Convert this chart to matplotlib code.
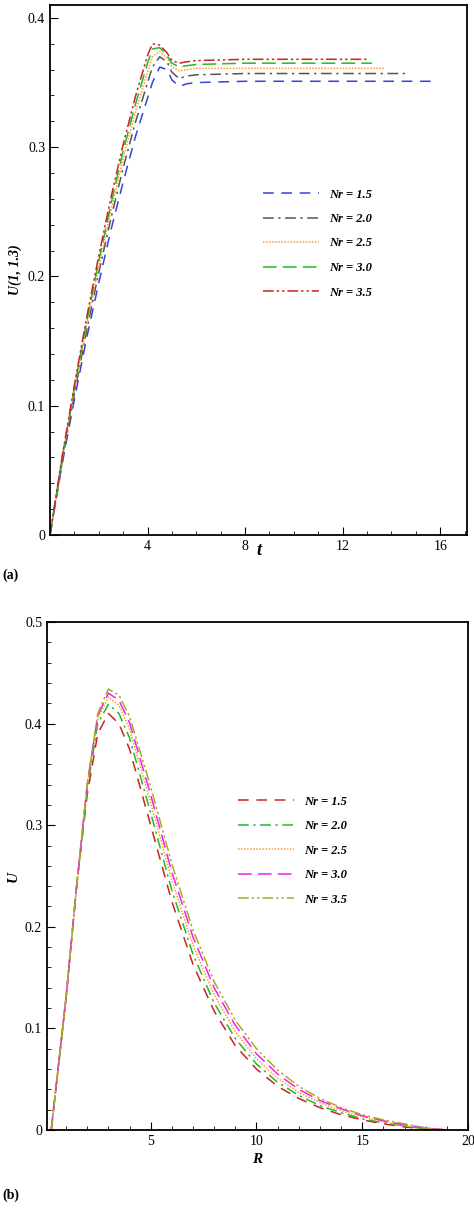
import matplotlib.pyplot as plt

# ---- panel (a): U(1, 1.3) vs t
t_a = [0, 0.5, 1, 1.5, 2, 2.5, 3, 3.5, 4, 4.2, 4.5, 4.8, 5.0, 5.3, 5.6, 6, 8, 10, 12, 13, 14, 15, 16]
u_a = {
    "1.5": [0, 0.055, 0.105, 0.152, 0.195, 0.236, 0.273, 0.308, 0.338, 0.350, 0.362, 0.360, 0.352, 0.347, 0.349, 0.350, 0.351, 0.351, 0.351, 0.351, 0.351, 0.351, 0.351],
    "2.0": [0, 0.057, 0.109, 0.158, 0.203, 0.245, 0.284, 0.319, 0.350, 0.362, 0.370, 0.366, 0.358, 0.353, 0.355, 0.356, 0.357, 0.357, 0.357, 0.357, 0.357, 0.357],
    "2.5": [0, 0.059, 0.112, 0.162, 0.208, 0.251, 0.291, 0.327, 0.358, 0.370, 0.374, 0.369, 0.362, 0.359, 0.360, 0.361, 0.361, 0.361, 0.361, 0.361, 0.361],
    "3.0": [0, 0.060, 0.114, 0.165, 0.212, 0.256, 0.297, 0.333, 0.365, 0.376, 0.377, 0.371, 0.365, 0.362, 0.363, 0.364, 0.365, 0.365, 0.365, 0.365],
    "3.5": [0, 0.061, 0.116, 0.168, 0.216, 0.261, 0.302, 0.339, 0.371, 0.380, 0.379, 0.373, 0.367, 0.365, 0.366, 0.367, 0.368, 0.368, 0.368, 0.368],
}
ends_a = {"1.5": 15.7, "2.0": 14.6, "2.5": 13.7, "3.0": 13.2, "3.5": 13.0}

# ---- panel (b): U vs R
r_b = [0.3, 1, 1.5, 2, 2.5, 3, 3.5, 4, 5, 6, 7, 8, 9, 10, 11, 12, 13, 14, 15, 16, 17, 18, 19]
u_b = {
    "1.5": [0, 0.13, 0.24, 0.33, 0.39, 0.41, 0.40, 0.375, 0.30, 0.225, 0.163, 0.117, 0.083, 0.06, 0.043, 0.031, 0.022, 0.015, 0.010, 0.006, 0.003, 0.001, 0],
    "2.0": [0, 0.13, 0.24, 0.335, 0.40, 0.419, 0.41, 0.386, 0.312, 0.236, 0.173, 0.125, 0.090, 0.065, 0.047, 0.034, 0.024, 0.017, 0.011, 0.007, 0.004, 0.001, 0],
    "2.5": [0, 0.13, 0.24, 0.34, 0.405, 0.426, 0.418, 0.395, 0.322, 0.246, 0.182, 0.133, 0.097, 0.070, 0.051, 0.037, 0.027, 0.019, 0.013, 0.008, 0.004, 0.002, 0],
    "3.0": [0, 0.13, 0.24, 0.34, 0.408, 0.43, 0.423, 0.401, 0.33, 0.254, 0.190, 0.140, 0.103, 0.075, 0.055, 0.040, 0.029, 0.021, 0.014, 0.009, 0.005, 0.002, 0],
    "3.5": [0, 0.13, 0.24, 0.34, 0.41, 0.434, 0.428, 0.407, 0.338, 0.262, 0.197, 0.146, 0.108, 0.080, 0.059, 0.043, 0.031, 0.022, 0.015, 0.010, 0.006, 0.002, 0],
}

styles_a = [("#3344dd", (0, (7, 5))), ("#555555", (0, (7, 3, 1.5, 3))), ("#ff9933", (0, (1, 1))),
            ("#22bb22", (0, (9, 4))), ("#cc2222", (0, (7, 2, 1.5, 2, 1.5, 2)))]
styles_b = [("#cc2222", (0, (7, 5))), ("#22bb22", (0, (7, 3, 1.5, 3))), ("#ff9933", (0, (1, 1))),
            ("#ee22ee", (0, (9, 4))), ("#aaaa22", (0, (7, 2, 1.5, 2, 1.5, 2)))]

plt.rcParams["font.family"] = "Liberation Serif"
fig = plt.figure(figsize=(4.74, 12.1), dpi=100)
W, H = 474, 1210
ax1 = fig.add_axes([50 / W, 1 - 535 / H, 417 / W, 530 / H])
ax2 = fig.add_axes([47 / W, 1 - 1130 / H, 421 / W, 508 / H])

for (nr, ys), (c, ls) in zip(u_a.items(), styles_a):
    xs = [x for x in t_a if x <= ends_a[nr]][:len(ys)]
    xs = xs + [ends_a[nr]]
    ys = ys[:len(xs) - 1] + [ys[len(xs) - 2]]
    ax1.plot(xs, ys, color=c, ls=ls, lw=1.1, label=f"Nr = {nr}")
ax1.set_xlim(0, 17.1)
ax1.set_ylim(0, 0.41)
ax1.set_xticks([4, 8, 12, 16])
ax1.set_yticks([0, 0.1, 0.2, 0.3, 0.4])
ax1.set_yticklabels(["0", "0.1", "0.2", "0.3", "0.4"])
ax1.set_xlabel("t", style="italic", fontweight="bold", fontsize=13, labelpad=-8)
ax1.set_ylabel("U(1, 1.3)", style="italic", fontweight="bold", fontsize=10)
ax1.legend(loc="center right", bbox_to_anchor=(0.8, 0.55), frameon=False, handlelength=4.5,
           prop={"style": "italic", "weight": "bold", "size": 9}, labelspacing=1.0)

for (nr, ys), (c, ls) in zip(u_b.items(), styles_b):
    ax2.plot(r_b, ys, color=c, ls=ls, lw=1.1, label=f"Nr = {nr}")
ax2.set_xlim(0.1, 20)
ax2.set_ylim(0, 0.5)
ax2.set_xticks([5, 10, 15, 20])
ax2.set_yticks([0, 0.1, 0.2, 0.3, 0.4, 0.5])
ax2.set_yticklabels(["0", "0.1", "0.2", "0.3", "0.4", "0.5"])
ax2.set_xlabel("R", style="italic", fontweight="bold", fontsize=11)
ax2.set_ylabel("U", style="italic", fontweight="bold", fontsize=11)
ax2.legend(loc="center right", bbox_to_anchor=(0.74, 0.55), frameon=False, handlelength=4.5,
           prop={"style": "italic", "weight": "bold", "size": 9}, labelspacing=1.0)

for ax in (ax1, ax2):
    ax.minorticks_on()
    ax.tick_params(which="both", direction="in", top=False, right=False, labelsize=10)
    ax.tick_params(which="major", length=6)
    ax.tick_params(which="minor", length=3)
    for s in ax.spines.values():
        s.set_linewidth(1.3)

fig.text(2 / W, 1 - 575 / H, "(a)", fontweight="bold", fontsize=10, va="center")
fig.text(2 / W, 1 - 1195 / H, "(b)", fontweight="bold", fontsize=10, va="center")
fig.savefig("out.png")
